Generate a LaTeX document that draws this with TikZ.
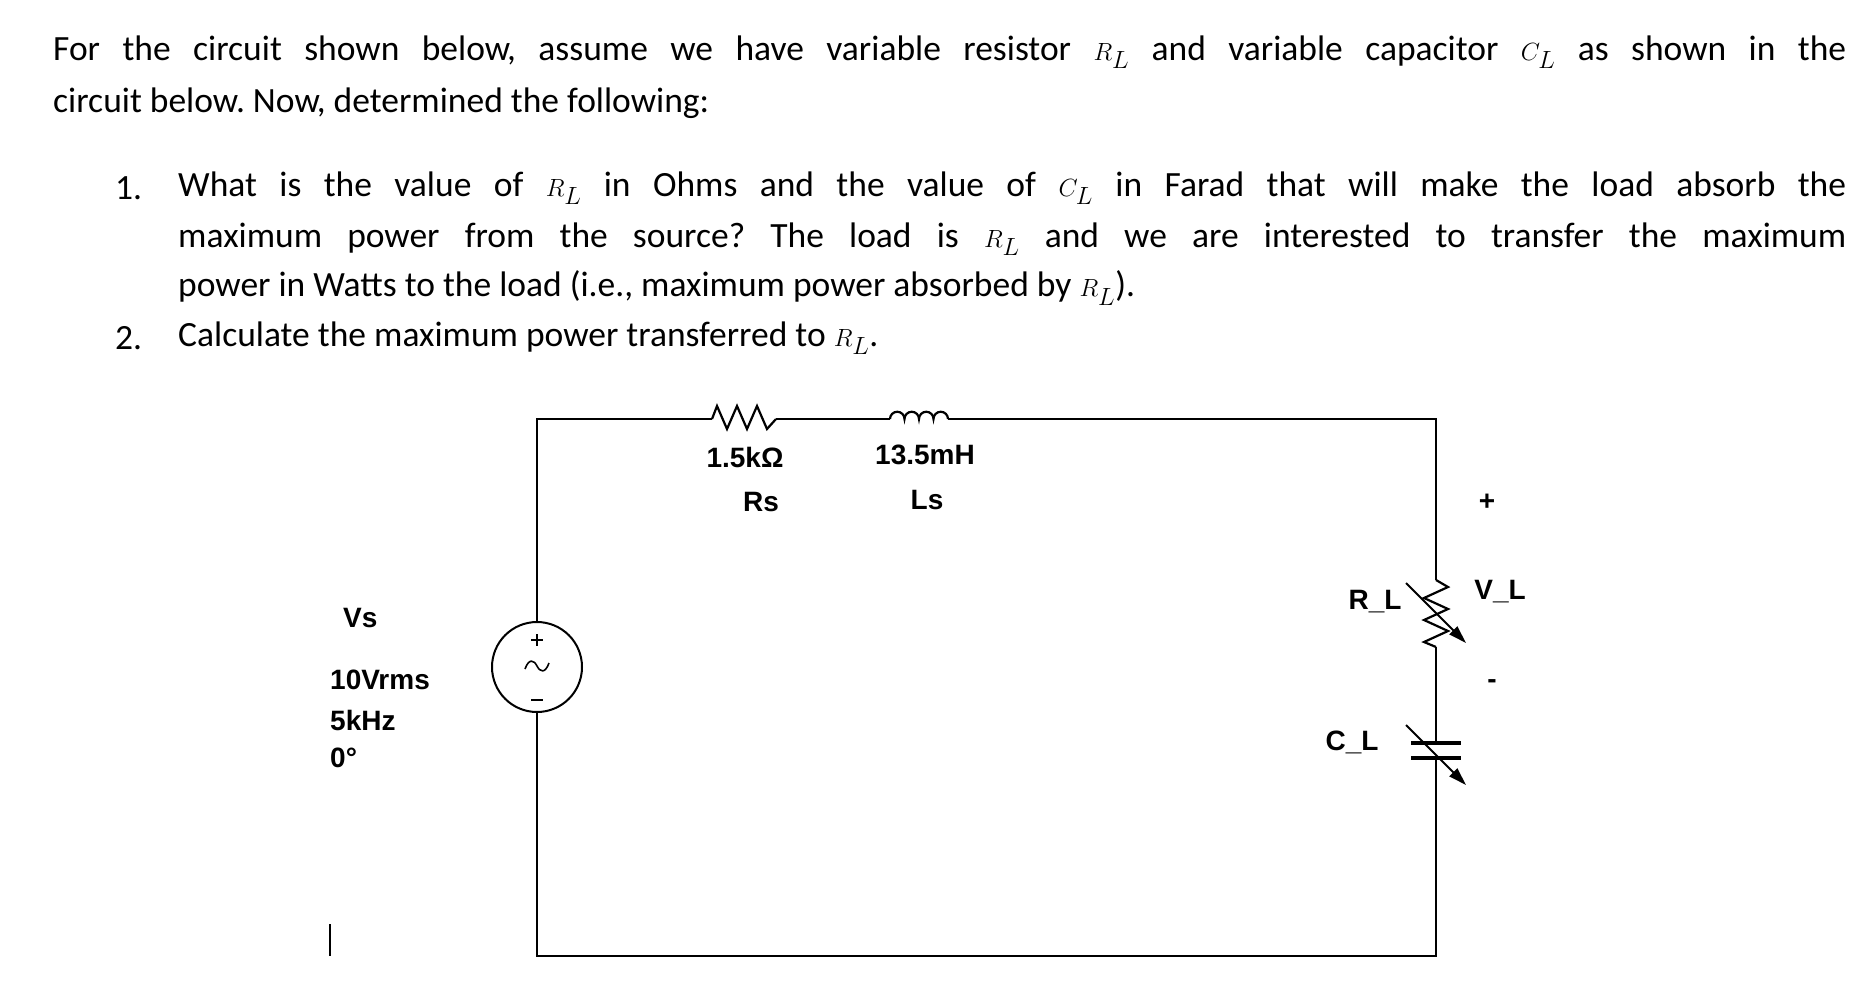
\documentclass[tikz,border=0pt]{standalone}
\usepackage{fontspec}
\setmainfont{Carlito}
\newfontfamily\arl{Liberation Sans}
\usetikzlibrary{arrows.meta}
\frenchspacing
\begin{document}
\begin{tikzpicture}[x=1pt,y=-1pt,
  wire/.style={line width=2.2pt},
  el/.style={line width=2.2pt,line join=miter},
  txt/.style={anchor=west,inner sep=0pt,font=\fontsize{35.5}{42}\selectfont},
  lab/.style={inner sep=0pt,font=\arl\bfseries\fontsize{28}{33}\selectfont},
  varr/.style={line width=2pt,-{Triangle[length=18pt,width=11pt]}}]
\useasboundingbox (0,0) rectangle (1859,980);
% text
\node[txt] (l1) at (53,52) {\makebox[1793pt][s]{For the circuit shown below, assume we have variable resistor $R_L$ and variable capacitor $C_L$ as shown in the}};
\node[txt] (l2) at (53,103) {circuit below. Now, determined the following:};
\node[txt] (n1) at (115,188) {1.};
\node[txt] (l3) at (178,188) {\makebox[1668pt][s]{What is the value of $R_L$ in Ohms and the value of $C_L$ in Farad that will make the load absorb the}};
\node[txt] (l4) at (178,239) {\makebox[1668pt][s]{maximum power from the source? The load is $R_L$ and we are interested to transfer the maximum}};
\node[txt] (l5) at (178,288) {power in Watts to the load (i.e., maximum power absorbed by $R_L$).};
\node[txt] (n2) at (115,338) {2.};
\node[txt] (l6) at (178,338) {Calculate the maximum power transferred to $R_L$.};
% coordinates
\coordinate (tl) at (537,419);
\coordinate (tr) at (1436,419);
\coordinate (bl) at (537,956);
\coordinate (br) at (1436,956);
\coordinate (rsa) at (712,419); \coordinate (rsb) at (776,419);
\coordinate (lsa) at (890,419); \coordinate (lsb) at (948,419);
\coordinate (rla) at (1436,580); \coordinate (rlb) at (1436,647);
\coordinate (cla) at (1436,743); \coordinate (clb) at (1436,758);
\node[circle,draw,line width=2pt,minimum size=90pt,inner sep=0pt] (vs) at (537,667) {};
% wires
\draw[wire] (vs.north) -- (tl) -- (rsa);
\draw[wire] (rsb) -- (lsa);
\draw[wire] (lsb) -- (tr) -- (rla);
\draw[wire] (rlb) -- (cla);
\draw[wire] (clb) -- (br) -- (bl) -- (vs.south);
% Rs
\draw[el] (rsa) -- ++(5,-13) -- ++(10,23) -- ++(10,-23) -- ++(10,23) -- ++(10,-23) -- ++(10,23) -- (rsb);
% Ls
\draw[el] (lsa) arc[start angle=180,end angle=360,radius=7.25] arc[start angle=180,end angle=360,radius=7.25] arc[start angle=180,end angle=360,radius=7.25] arc[start angle=180,end angle=360,radius=7.25];
% RL
\draw[el] (rla) -- ++(12,7) -- ++(-24,11) -- ++(24,11) -- ++(-24,11) -- ++(24,11) -- ++(-24,11) -- ++(12,5) -- (rlb);
\draw[varr] (1406,583) -- (1466,643);
% CL
\draw[line width=4pt] (1411,743) -- (1461,743) (1411,758) -- (1461,758);
\draw[varr] (1406,725) -- (1466,785);
% source symbols
\draw[line width=1.6pt] (531,640) -- (543,640) (537,634) -- (537,646);
\draw[line width=1.6pt] (531,700) -- (543,700);
\draw[line width=1.6pt] (525,669) .. controls (529,658) and (534,660) .. (537,666) .. controls (540,672) and (545,674) .. (549,663);
% labels
\node[lab] (rsv) at (745,457) {1.5kΩ};
\node[lab] (rsn) at (761,502) {Rs};
\node[lab] (lsv) at (925,455) {13.5mH};
\node[lab] (lsn) at (927,500) {Ls};
\node[lab] (pl) at (1487,502) {+};
\node[lab] (vl) at (1500,592) {V\_L};
\node[lab] (rln) at (1375,602) {R\_L};
\node[lab] (mi) at (1492,684) {-};
\node[lab] (cln) at (1352,742) {C\_L};
\node[lab,anchor=west] (vsn) at (343,618) {Vs};
\node[lab,anchor=west] (vs1) at (330,680) {10Vrms};
\node[lab,anchor=west] (vs2) at (330,720) {5kHz};
\node[lab,anchor=west] (vs3) at (330,758) {0°};
\draw[line width=1.5pt] (330,924) -- (330,956);
\end{tikzpicture}
\end{document}
